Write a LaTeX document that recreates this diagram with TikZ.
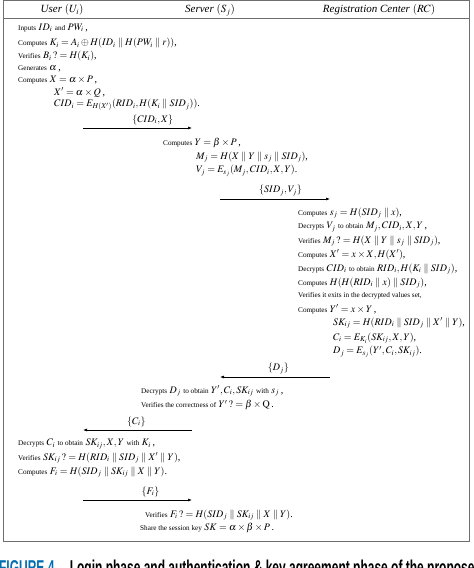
\documentclass[tikz,border=0pt]{standalone}
\usepackage{mathptmx}
\usepackage[no-math]{fontspec}
\setmainfont{Liberation Serif}
\newfontfamily\capfont{Liberation Sans}
\usetikzlibrary{positioning,arrows.meta}
\definecolor{tbGray}{RGB}{110,110,110}
\definecolor{capBlue}{RGB}{0,110,175}
\newcommand{\stxt}[1]{{\fontsize{7.2}{7.5}\selectfont #1}}
\newcommand{\cat}{\mkern4mu\|\mkern4mu}
\tikzset{
    base/.style={font=\fontsize{10}{11}\selectfont, inner sep=0pt},
    row/.style={base, anchor=west},
    head/.style={font=\fontsize{11}{12}\selectfont, inner sep=0pt},
    msg/.style={base, above=3pt},
    flow/.style={-{Latex[length=4pt,width=3pt]}, semithick, black},
    frame/.style={draw=tbGray, line width=0.8pt}
}

\begin{document}
\begin{tikzpicture}[x=1pt, y=-1pt]
  \clip (0,0) rectangle (474,568);

  % Table frame and header
  \draw[frame] (3,0.5) rectangle (469,541);
  \draw[frame] (3,18) -- (469,18);
  \node[head] (hUser) at (62,10) {\textit{User} $(U_i)$};
  \node[head] (hServer) at (210,10) {\textit{Server} $(S_j)$};
  \node[head] (hRC) at (379,10) {\textit{Registration Center} $(RC)$};

  % User: login request
  \node[row] (u1) at (18,28) {\stxt{Inputs} $ID_i$ \stxt{and} $PW_i$\,,};
  \node[row] (u2) at (18,43) {\stxt{Computes} $K_i = A_i \oplus H(ID_i \cat H(PW_i \cat r))$,};
  \node[row] (u3) at (18,56) {\stxt{Verifies} $B_i\,? = H(K_i)$,};
  \node[row] (u4) at (18,69) {\stxt{Generates} $\alpha$\,,};
  \node[row] (u5) at (18,80) {\stxt{Computes} $X = \alpha\times P$\,,};
  \node[row] (u6) at (54,92.5) {$X' = \alpha\times Q$\,,};
  \node[row] (u7) at (54,105) {$CID_i = E_{H(X')}(RID_i, H(K_i \cat SID_j))$.};

  \coordinate (m1a) at (83,128);
  \coordinate (m1b) at (192,128);
  \draw[flow] (m1a) -- node[msg, pos=0.64] (m1) {$\{CID_i, X\}$} (m1b);

  % Server
  \node[row] (s1) at (163,143) {\stxt{Computes} $Y = \beta\times P$\,,};
  \node[row] (s2) at (196,157) {$M_j = H(X \cat Y \cat s_j \cat SID_j)$,};
  \node[row] (s3) at (196,171) {$V_j = E_{s_j}(M_j, CID_i, X, Y)$.};

  \coordinate (m2a) at (220,199);
  \coordinate (m2b) at (330,199);
  \draw[flow] (m2a) -- node[msg, pos=0.55] (m2) {$\{SID_j, V_j\}$} (m2b);

  % Registration center
  \node[row] (r1) at (298,213) {\stxt{Computes} $s_j = H(SID_j \cat x)$,};
  \node[row] (r2) at (298,227) {\stxt{Decrypts} $V_j$ \stxt{to obtain} $M_j, CID_i, X, Y$\,,};
  \node[row] (r3) at (298,241) {\stxt{Verifies} $M_j\,? = H(X \cat Y \cat s_j \cat SID_j)$,};
  \node[row] (r4) at (298,255) {\stxt{Computes} $X' = x\times X, H(X')$,};
  \node[row] (r5) at (298,269) {\stxt{Decrypts} $CID_i$ \stxt{to obtain} $RID_i, H(K_i \cat SID_j)$,};
  \node[row] (r6) at (298,283) {\stxt{Computes} $H(H(RID_i \cat x) \cat SID_j)$,};
  \node[row] (r7) at (298,296) {\stxt{Verifies it exits in the decrypted values set,}};
  \node[row] (r8) at (298,309) {\stxt{Computes} $Y' = x\times Y$\,,};
  \node[row] (r9) at (333,323) {$SK_{ij} = H(RID_i \cat SID_j \cat X' \cat Y)$,};
  \node[row] (r10) at (333,338) {$C_i = E_{K_i}(SK_{ij}, X, Y)$,};
  \node[row] (r11) at (333,352) {$D_j = E_{s_j}(Y', C_i, SK_{ij})$.};

  \coordinate (m3a) at (330,377);
  \coordinate (m3b) at (220,377);
  \draw[flow] (m3a) -- node[msg, pos=0.47] (m3) {$\{D_j\}$} (m3b);

  % Server: check reply
  \node[row] (s4) at (141,391) {\stxt{Decrypts} $D_j$ \stxt{to obtain} $Y', C_i, SK_{ij}$ \stxt{with} $s_j$\,,};
  \node[row] (s5) at (141,405) {\stxt{Verifies the correctness of} $Y'\,? = \beta\times\mathrm{Q}$\,.};

  \coordinate (m4a) at (192,430);
  \coordinate (m4b) at (83,430);
  \draw[flow] (m4a) -- node[msg, pos=0.51] (m4) {$\{C_i\}$} (m4b);

  % User: session key
  \node[row] (u8) at (18,444) {\stxt{Decrypts} $C_i$ \stxt{to obtain} $SK_{ij}, X, Y$ \stxt{with} $K_i$\,,};
  \node[row] (u9) at (18,458) {\stxt{Verifies} $SK_{ij}\,? = H(RID_i \cat SID_j \cat X' \cat Y)$,};
  \node[row] (u10) at (18,472) {\stxt{Computes} $F_i = H(SID_j \cat SK_{ij} \cat X \cat Y)$.};

  \coordinate (m5a) at (83,500);
  \coordinate (m5b) at (192,500);
  \draw[flow] (m5a) -- node[msg, pos=0.62] (m5) {$\{F_i\}$} (m5b);

  % Server: final check
  \node[row] (s6) at (145,515) {\stxt{Verifies} $F_i\,? = H(SID_j \cat SK_{ij} \cat X \cat Y)$.};
  \node[row] (s7) at (140,528) {\stxt{Share the session key} $SK = \alpha\times\beta\times P$\,.};

  % Caption (cut by the page edge)
  \node[anchor=base west, inner sep=0pt, xscale=0.6, font=\capfont\bfseries\fontsize{20}{21}\selectfont]
    (caption) at (-1,574) {\textcolor{capBlue}{FIGURE 4.}\quad Login phase and authentication \& key agreement phase of the proposed scheme};
\end{tikzpicture}
\end{document}
